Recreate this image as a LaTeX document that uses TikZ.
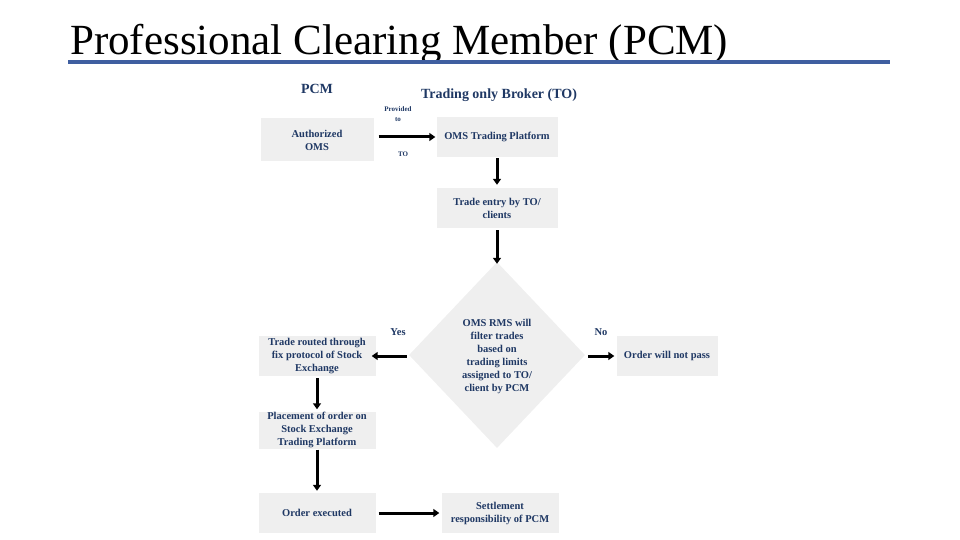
\documentclass[tikz,border=0pt]{standalone}
\usepackage{fontspec}
\setmainfont{Liberation Serif}
\usetikzlibrary{shapes.geometric,arrows.meta}
\definecolor{navy}{HTML}{1F3864}
\definecolor{boxfill}{HTML}{EFEFEF}
\definecolor{rule}{HTML}{3F5FA0}
\begin{document}
\begin{tikzpicture}[x=1pt,y=-1pt,
  box/.style={fill=boxfill,draw=none,text=navy,font=\bfseries\fontsize{10.5}{13}\selectfont,align=center,inner sep=0pt},
  lbl/.style={text=navy,font=\bfseries\fontsize{10.5}{13}\selectfont,align=center},
  arr/.style={-{Triangle[length=6pt,width=8pt]},line width=3pt}]
\useasboundingbox (0,0) rectangle (960,540);
\node[anchor=base west,font=\fontsize{43}{48}\selectfont,inner sep=0pt] (title) at (70,55) {Professional Clearing Member (PCM)};
\draw[rule,line width=4.5pt] (68,62) -- (890,62);
\node[lbl,font=\bfseries\fontsize{14}{16}\selectfont] (pcm) at (317,89) {PCM};
\node[lbl,font=\bfseries\fontsize{14}{16}\selectfont] (tob) at (499,95) {Trading only Broker (TO)};
\node[box,minimum width=113pt,minimum height=43pt] (auth) at (317,140) {Authorized\\OMS};
\node[box,minimum width=121pt,minimum height=40pt] (oms) at (497,137) {OMS Trading Platform};
\node[box,minimum width=121pt,minimum height=40pt] (entry) at (497,208) {Trade entry by TO/\\clients};
\node[diamond,fill=boxfill,text=navy,font=\bfseries\fontsize{10.5}{13}\selectfont,align=center,minimum width=176pt,minimum height=186pt,inner sep=0pt] (rms) at (497,355) {};
\node[lbl] (rmst) at (497,356) {OMS RMS will\\filter trades\\based on\\trading limits\\assigned to TO/\\client by PCM};
\node[box,minimum width=117pt,minimum height=40pt] (route) at (317,356) {Trade routed through\\fix protocol of Stock\\Exchange};
\node[box,minimum width=117pt,minimum height=37pt] (place) at (317,430) {Placement of order on\\Stock Exchange\\Trading Platform};
\node[box,minimum width=117pt,minimum height=40pt] (exec) at (317,513) {Order executed};
\node[box,minimum width=117pt,minimum height=40pt] (settle) at (500,513) {Settlement\\responsibility of PCM};
\node[box,minimum width=101pt,minimum height=40pt] (nopass) at (667,356) {Order will not pass};
\node[lbl,font=\bfseries\fontsize{7}{10}\selectfont] (prov) at (398,114) {Provided\\to};
\node[lbl,font=\bfseries\fontsize{7}{10}\selectfont] (to) at (403,154) {TO};
\node[lbl] (yes) at (398,332) {Yes};
\node[lbl] (no) at (601,332) {No};
\draw[arr] ([xshift=5pt]auth.east |- oms) -- ([xshift=-1pt]oms.west);
\draw[arr] ([yshift=-1pt]oms.south) -- ([yshift=3pt]entry.north);
\draw[arr] ([yshift=-2pt]entry.south) -- ([yshift=-2pt]rms.north);
\draw[arr] ([xshift=-2pt]rms.west |- route) -- ([xshift=-4pt]route.east);
\draw[arr] ([xshift=3pt]rms.east |- nopass) -- ([xshift=-2pt]nopass.west);
\draw[arr] ([yshift=-2pt]route.south) -- ([yshift=2pt]place.north);
\draw[arr] ([yshift=-1pt]place.south) -- ([yshift=2pt]exec.north);
\draw[arr] ([xshift=3pt]exec.east) -- ([xshift=-2pt]settle.west);
\end{tikzpicture}
\end{document}
